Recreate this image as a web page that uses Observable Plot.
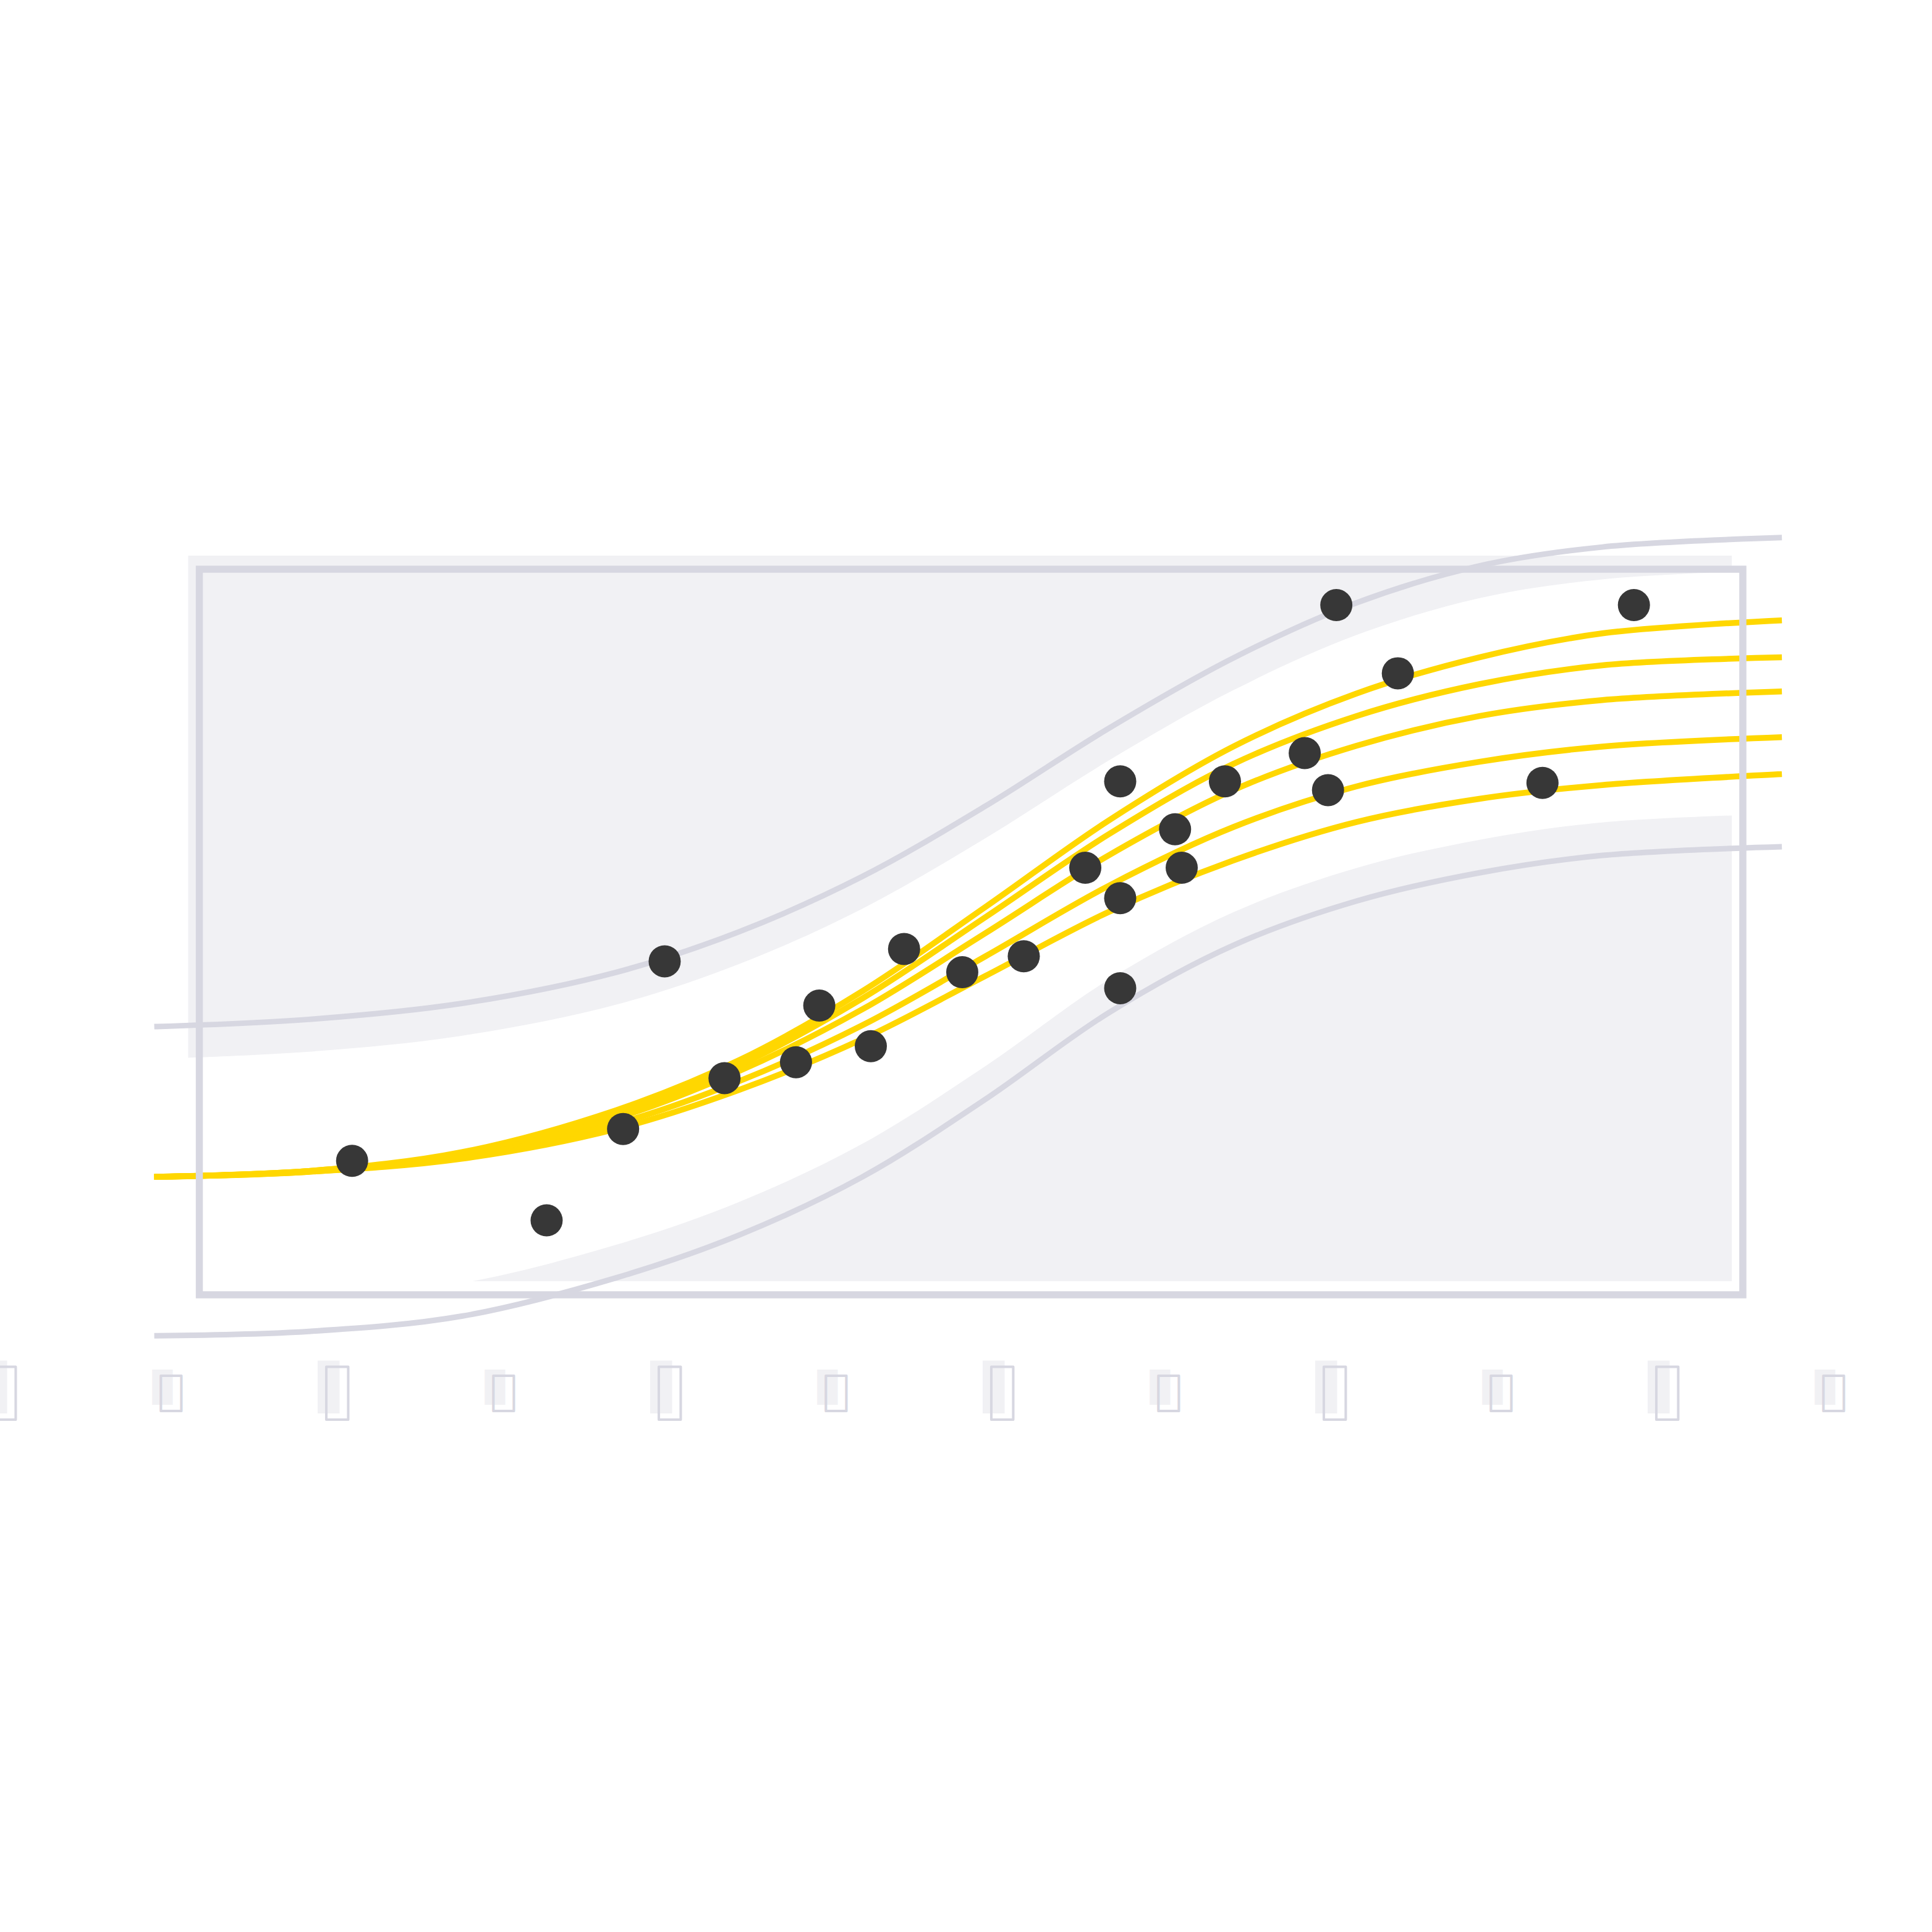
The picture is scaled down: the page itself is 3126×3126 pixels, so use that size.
<!DOCTYPE html>
<html><head><meta charset="utf-8">
<script src="https://cdn.jsdelivr.net/npm/d3@7"></script>
<script src="https://cdn.jsdelivr.net/npm/@observablehq/plot@0.6"></script>
<style>html,body{margin:0;padding:0;background:#fff}</style>
</head><body><div id="chart"></div>
<script>
// ---- data ----
const tickValues = [0,1,2,3,4,5,6,7,8,9,10,11];
const tickLabels = ["▋","▉","▋","▉","▋","▉","▋","▉","▋","▉","▋","▉"];

const curveX   = [0.9, 1.83, 2.75, 3.68, 4.42, 5.16, 5.9, 6.64, 7.39, 8.13, 8.87, 9.61, 10.69];
const bandHigh = [37.0, 38.0, 40.2, 44.5, 50.1, 57.7, 67.4, 78.1, 87.8, 95.4, 100.5, 103.1, 104.4];
const bandLow  = [-5.6, -5.0, -2.9, 2.4, 8.3, 16.3, 27.0, 38.9, 48.2, 54.3, 58.2, 60.6, 61.8];
const fit1 = [16.3, 17.1, 19.7, 25.5, 32.4, 41.9, 53.5, 65.4, 75.6, 82.9, 87.9, 91.2, 93.0];
const fit2 = [16.3, 17.1, 19.5, 25.1, 31.7, 40.9, 52.1, 63.5, 73.2, 79.8, 84.2, 86.8, 87.9];
const fit3 = [16.3, 17.1, 19.3, 24.4, 30.9, 39.4, 49.9, 60.6, 69.6, 75.7, 79.8, 82.0, 83.2];
const fit4 = [16.3, 17.0, 19.0, 23.6, 29.5, 37.2, 46.7, 56.4, 64.5, 70.1, 73.5, 75.6, 76.9];
const fit5 = [16.3, 17.0, 18.8, 22.9, 28.3, 35.3, 44.0, 52.8, 59.9, 65.2, 68.4, 70.3, 71.8];

const pointX = [2.09, 3.26, 3.72, 3.97, 4.33, 4.76, 4.90, 5.21, 5.41, 5.76, 6.13, 6.50, 6.71, 6.71, 6.71, 7.04, 7.08, 7.34, 7.82, 7.96, 8.01, 8.38, 9.25, 9.80];
const pointY = [18.5, 10.3, 22.9, 46.0, 29.9, 32.1, 39.9, 34.3, 47.7, 44.5, 46.7, 58.9, 70.8, 54.7, 42.3, 64.2, 58.9, 70.8, 74.7, 69.6, 95.1, 85.7, 70.6, 95.1];

const frameX = [1.173, 10.457];
const frameY = [0, 100];

// ---- build tables ----
const band = curveX.map((x, i) => ({x, lo: bandLow[i], hi: bandHigh[i]}));
const fits = [fit1, fit2, fit3, fit4, fit5].flatMap((f, k) => curveX.map((x, i) => ({x, y: f[i], k})));
const points = pointX.map((x, i) => ({x, y: pointY[i]}));
const frame = [{x1: frameX[0], x2: frameX[1], y1: frameY[0], y2: frameY[1]}];
const ticks = tickValues.map((v, i) => ({v, label: tickLabels[i]}));

const inset = 4.5; // inner edge of the white band, in y units
const greyLine = "#d7d7e1", greyFill = "#f1f1f4";

const tall = d => d.label === "▋";
const short = d => d.label === "▉";
const labelFont = "DejaVu Sans";
const smooth = "catmull-rom";

const chart = Plot.plot({
  width: 3126, height: 3126,
  marginTop: 0, marginLeft: 0, marginRight: 0, marginBottom: 871,
  x: {domain: [0, 11], range: [7, 2966], axis: null},
  y: {domain: [0, 100], range: [2095, 921], axis: null},
  marks: [
    Plot.rect(frame, {x1: "x1", x2: "x2", y1: "y1", y2: "y2", fill: greyFill, dx: -18, dy: -22}),
    Plot.areaY(band, {x: "x", y1: d => d.lo + inset, y2: d => d.hi - inset, fill: "white", curve: smooth}),
    Plot.line(band, {x: "x", y: "hi", stroke: greyLine, strokeWidth: 9, curve: smooth, strokeLinecap: "butt"}),
    Plot.line(band, {x: "x", y: "lo", stroke: greyLine, strokeWidth: 9, curve: smooth, strokeLinecap: "butt"}),
    Plot.line(fits, {x: "x", y: "y", z: "k", stroke: "#ffd700", strokeWidth: 9.5, curve: smooth, strokeLinecap: "butt"}),
    Plot.rect(frame, {x1: "x1", x2: "x2", y1: "y1", y2: "y2", fill: "none", stroke: greyLine, strokeWidth: 11.5}),
    Plot.dot(points, {x: "x", y: "y", r: 26, fill: "#373737"}),
    // tick labels: light fill layer (offset) + outline layer
    Plot.text(ticks, {filter: tall, x: "v", text: "label", frameAnchor: "bottom", lineAnchor: "middle", fontFamily: labelFont, fontSize: 72, fill: greyFill, dx: -3.2, dy: -9.5}),
    Plot.text(ticks, {filter: short, x: "v", text: "label", frameAnchor: "bottom", lineAnchor: "middle", fontFamily: labelFont, fontSize: 48, fill: greyFill, dx: -11.6, dy: -9.5}),
    Plot.text(ticks, {filter: tall, x: "v", text: "label", frameAnchor: "bottom", lineAnchor: "middle", fontFamily: labelFont, fontSize: 72, fill: "none", stroke: greyLine, strokeWidth: 4, dx: 10.8}),
    Plot.text(ticks, {filter: short, x: "v", text: "label", frameAnchor: "bottom", lineAnchor: "middle", fontFamily: labelFont, fontSize: 48, fill: "none", stroke: greyLine, strokeWidth: 4, dx: 2.4})
  ]
});
document.getElementById("chart").appendChild(chart);
</script>
</body></html>
